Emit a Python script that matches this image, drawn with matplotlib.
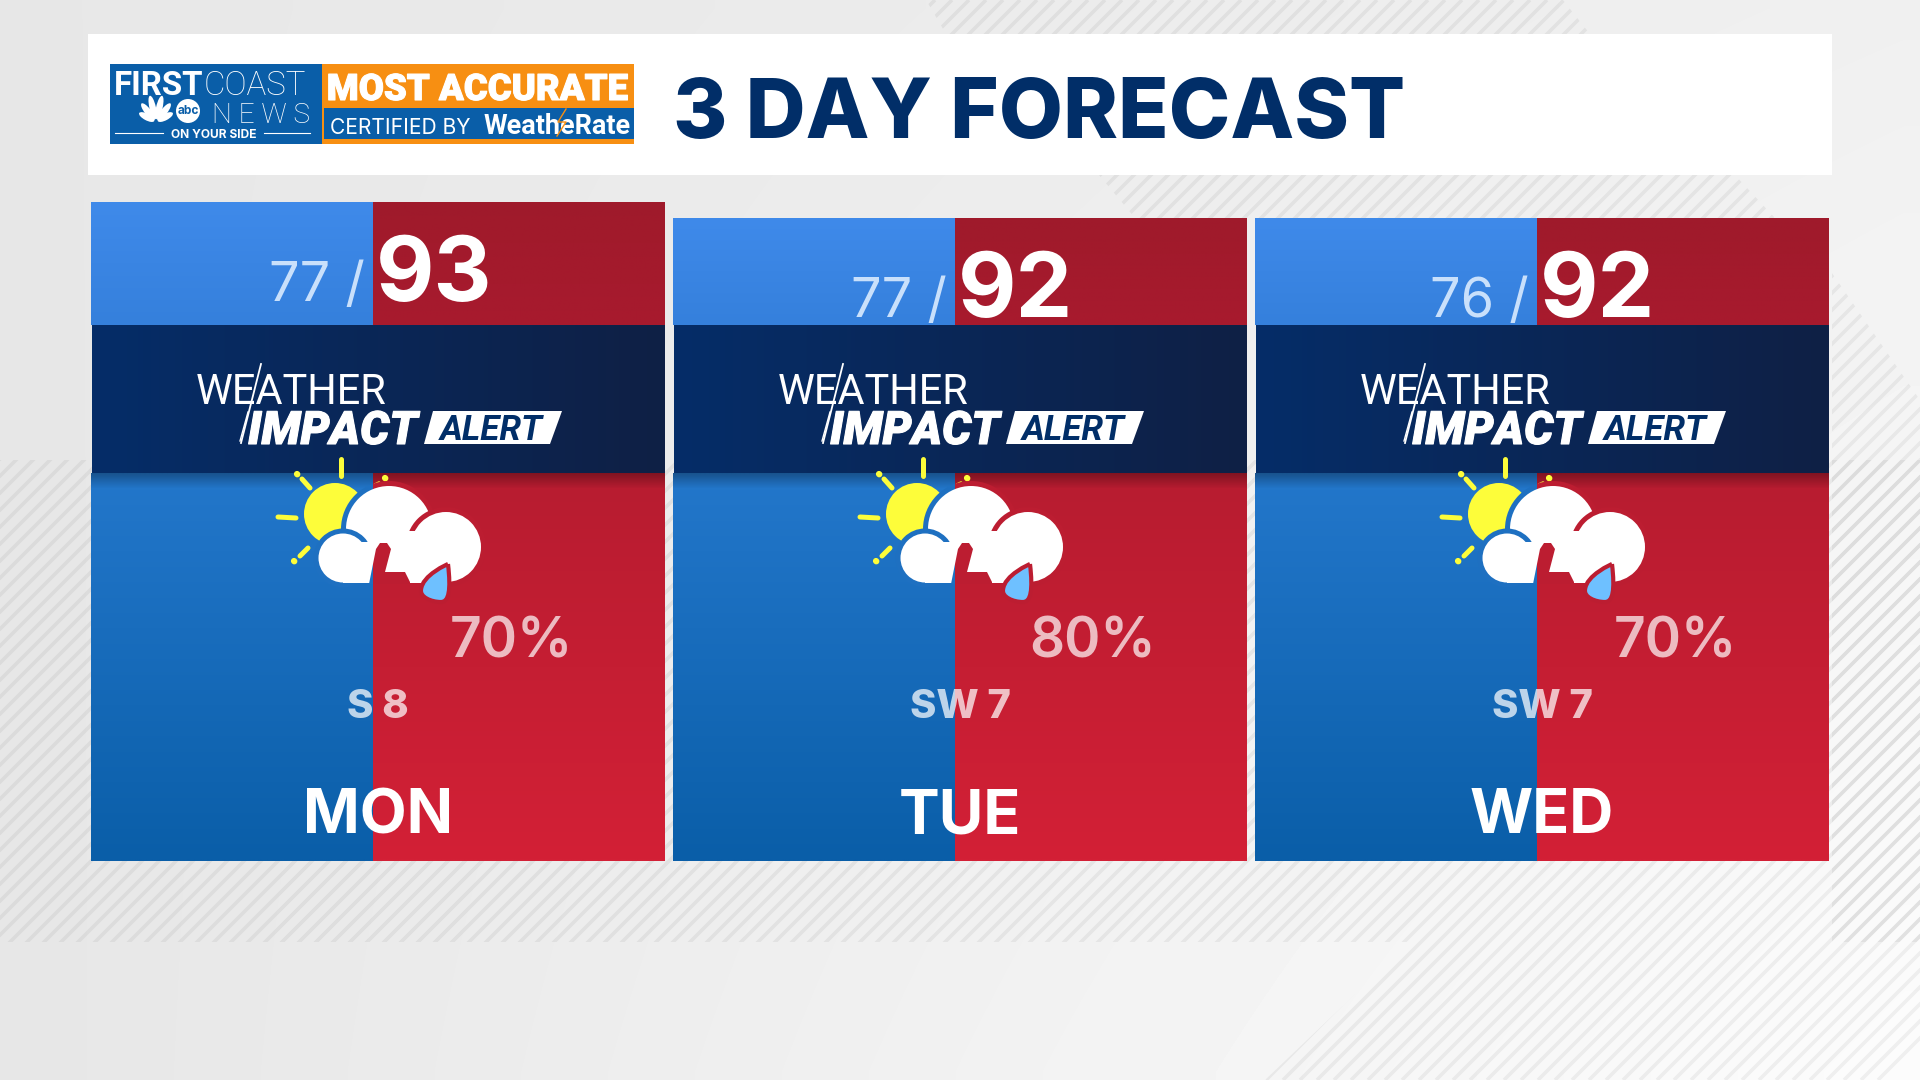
import numpy as np
import matplotlib
matplotlib.use("Agg")
import matplotlib.pyplot as plt
import matplotlib.patheffects as pe
from matplotlib.collections import LineCollection
from matplotlib.colors import to_rgb
from matplotlib.patches import Circle, Ellipse, PathPatch, Polygon, Rectangle
from matplotlib.path import Path

# forecast values
days = ["MON", "TUE", "WED"]
lows = [77, 77, 76]
highs = [93, 92, 92]
rain = [70, 80, 70]
wind = ["S 8", "SW 7", "SW 7"]

# layout of the cards, in pixels of the 1920x1080 frame
card_left = [91, 673, 1255]
card_right = [665, 1247, 1829]
card_split = [373, 955, 1537]
card_top = [202, 218, 218]

NAVY = "#012e68"
BLUE_MID = "#1e70c1"
RED_MID = "#bc1d31"
FONT = "Inter"
LOGO_FONT = "Roboto"

fig = plt.figure(figsize=(19.2, 10.8), dpi=100)
ax = fig.add_axes([0, 0, 1, 1])
ax.set_axis_off()

heavy = [pe.withStroke(linewidth=0.8, foreground="white")]


def px(size):
    # font size from a height in pixels
    return size * 0.72


def gradient(x0, y0, x1, y1, c0, c1, vertical=True, z=2):
    t = np.linspace(0, 1, 128)
    c0, c1 = np.array(to_rgb(c0)), np.array(to_rgb(c1))
    img = c0[None, :] * (1 - t[:, None]) + c1[None, :] * t[:, None]
    img = img[:, None, :] if vertical else img[None, :, :]
    ax.imshow(img, extent=(x0, x1, y1, y0), aspect="auto", zorder=z, interpolation="bilinear")


def hatch(points, color="black", alpha=0.05):
    clip = Polygon(points, closed=True, transform=ax.transData)
    segs = [[(c, 0), (c - 1080, 1080)] for c in np.arange(0, 3100, 17)]
    lc = LineCollection(segs, colors=color, alpha=alpha, linewidths=2.6, zorder=1)
    ax.add_collection(lc)
    lc.set_clip_path(clip)


def two_tone(split, make, z):
    # same shape in blue on the left half of the card and red on the right
    for color, x0 in ((BLUE_MID, split - 200), (RED_MID, split)):
        p = make(color)
        p.set_zorder(z)
        ax.add_patch(p)
        p.set_clip_path(Rectangle((x0, 400), 200, 300, transform=ax.transData))


def ray(x0, y0, x1, y1, dx, lw=3.6):
    ax.plot([x0 + dx, x1 + dx], [y0, y1], color="#fdfd3a", lw=lw, solid_capstyle="round", zorder=6)


def draw_icon(split):
    dx = split - 373
    ray(341, 459, 341, 476, dx)
    ray(302, 479, 310, 488, dx)
    ray(297, 474, 297.3, 474.3, dx, 4.5)
    ray(278, 517, 296, 518, dx)
    ray(308, 548, 300, 556, dx)
    ray(294, 561, 294.3, 561.3, dx, 4.5)
    ray(375, 485, 379, 483, dx, 2.5)
    ray(385, 478, 385.3, 478.3, dx, 4.5)
    ax.add_patch(Circle((335 + dx, 514), 31, color="#fdfd3a", lw=0, zorder=6))

    for (cx, cy, r) in [(389, 529, 43), (343, 558, 24.5), (446, 547, 35)]:
        two_tone(split, lambda c, cx=cx, cy=cy, r=r: Circle((cx + dx, cy), r + 5, color=c, lw=0), 7)
        ax.add_patch(Circle((cx + dx, cy), r, color="white", lw=0, zorder=7))
    ax.add_patch(Rectangle((343 + dx, 542), 103, 40.5, color="white", lw=0, zorder=7))
    ax.add_patch(Rectangle((396 + dx, 531), 50, 51, color="white", lw=0, zorder=7))

    # bolt cut out of the cloud
    two_tone(split, lambda c: Polygon([(369 + dx, 584), (376 + dx, 549), (380 + dx, 543), (387 + dx, 543),
                                       (391 + dx, 549), (385 + dx, 572), (405 + dx, 572), (410 + dx, 582),
                                       (410 + dx, 584)], closed=True, color=c, lw=0), 8)

    verts = [(448, 564), (448, 564), (422, 575), (421, 590), (420, 597), (431, 602), (441, 602),
             (449, 602), (451, 590), (448, 564)]
    codes = [Path.MOVETO] + [Path.CURVE4] * 9
    verts = [(x + dx, y) for x, y in verts]
    ax.add_patch(PathPatch(Path(verts, codes), fc="#6ec0ff", ec=RED_MID, lw=3, zorder=9))


def draw_alert_logo(dx):
    ax.text(196 + dx, 404, "WEATHER", family=LOGO_FONT, color="white",
            fontsize=px(41.5), ha="left", va="baseline", zorder=6)
    ax.plot([261 + dx, 241 + dx], [364, 443], color="white", lw=1.3, zorder=6)
    ax.plot([248 + dx, 240 + dx], [412, 441], color="white", lw=1.0, zorder=6)
    ax.text(248 + dx, 444, "IMPACT", family=LOGO_FONT, weight="black", style="italic", color="white",
            fontsize=px(46), ha="left", va="baseline", zorder=6, path_effects=heavy)
    ax.add_patch(Polygon([(433 + dx, 411), (562 + dx, 411), (550 + dx, 444), (424 + dx, 444)],
                         closed=True, color="white", lw=0, zorder=6))
    ax.text(491 + dx, 440.5, "ALERT", family=LOGO_FONT, weight="bold", style="italic", color=NAVY,
            fontsize=px(35), ha="center", va="baseline", zorder=7)


# background
yy, xx = np.mgrid[0:1:64j, 0:1:64j]
bg = 0.905 + 0.035 * xx + 0.05 * xx * yy - 0.002 * yy
ax.imshow(bg, extent=(0, 1920, 1080, 0), aspect="auto", cmap="gray", vmin=0, vmax=1,
          zorder=0, interpolation="bilinear")

hatch([(926, 0), (1563, 0), (1590, 34), (946, 34)])
hatch([(1099, 175), (1735, 175), (1775, 218), (1135, 218)])
hatch([(0, 460), (1920, 460), (1920, 942), (0, 942)])
hatch([(1832, 273), (1920, 400), (1920, 1045), (1885, 1080), (1265, 1080), (1410, 942), (1832, 942)])

# header strip
ax.add_patch(Rectangle((88, 34), 1744, 141, color="white", lw=0, zorder=2))
ax.add_patch(Rectangle((110, 64), 212, 80, color="#0a5ea8", lw=0, zorder=3))
ax.add_patch(Rectangle((322, 64), 312, 80, color="#f78f12", lw=0, zorder=3))
ax.add_patch(Rectangle((324, 108), 310, 31, color="#0a5ea8", lw=0, zorder=4))

ax.text(114, 95, "FIRST", family=LOGO_FONT, weight="bold", color="white", fontsize=px(33), va="baseline", zorder=5)
ax.text(204, 95, "COAST", family=LOGO_FONT, weight="light", color="white", fontsize=px(33), va="baseline", zorder=5)
ax.text(212, 123, "N E W S", family=LOGO_FONT, weight="light", color="white", fontsize=px(28), va="baseline", zorder=5)
ax.text(214, 137.5, "ON YOUR SIDE", family=FONT, weight="bold", color="white", fontsize=px(12),
        ha="center", va="baseline", zorder=5)
ax.plot([115, 163], [133, 133], color="white", lw=0.8, zorder=5)
ax.plot([264, 310], [133, 133], color="white", lw=0.8, zorder=5)
for ang, size in zip([-62, -38, -13, 13, 38, 62], [17, 21, 24, 24, 21, 17]):
    a = np.deg2rad(ang)
    ax.add_patch(Ellipse((156 + np.sin(a) * size * 0.62, 122 - np.cos(a) * size * 0.62), 6.5, size,
                         angle=ang, color="white", lw=0, zorder=5))
ax.add_patch(Circle((188, 111), 12, color="white", lw=0, zorder=5))
ax.text(188, 114.5, "abc", family=FONT, weight="bold", color="#0a5ea8", fontsize=px(12), ha="center",
        va="baseline", zorder=6)

ax.text(477.5, 100, "MOST ACCURATE", family=LOGO_FONT, weight="black", color="white", fontsize=px(36.5),
        ha="center", va="baseline", zorder=5, path_effects=heavy)
ax.text(330, 134, "CERTIFIED BY", family=FONT, color="white", fontsize=px(21), va="baseline", zorder=5)
ax.text(484, 134, "WeatheRate", family=LOGO_FONT, weight="bold", color="white",
        fontsize=px(27), va="baseline", zorder=5)
ax.plot([566, 558, 566, 557], [109, 122, 122, 136], color="#f78f12", lw=1.0, zorder=6)

ax.text(673, 138, "3 DAY FORECAST", family=FONT, weight=800, color=NAVY, fontsize=px(83),
        ha="left", va="baseline", zorder=5)

# the three day cards
for i, day in enumerate(days):
    l, r, s, t = card_left[i], card_right[i], card_split[i], card_top[i]
    dx = s - card_split[0]
    base = 301 if i == 0 else 317

    gradient(l, t, s, 325, "#3f8aea", "#3580dc")
    gradient(s, t, r, 325, "#9f1a2b", "#a81a2e")
    gradient(l, 473, s, 861, "#2377cb", "#0a5ea8")
    gradient(s, 473, r, 861, "#b71c30", "#d32036")
    gradient(l + 1, 325, r, 473, "#052d68", "#0f2045", vertical=False, z=3)

    # soft shadow under the navy band
    shadow = np.zeros((16, 1, 4))
    shadow[:, 0, 3] = np.linspace(0.3, 0, 16)
    ax.imshow(shadow, extent=(l, r, 489, 473), aspect="auto", zorder=3, interpolation="bilinear")

    ax.text(s - 8, base, f"{lows[i]} /", family=FONT, weight="normal", color="#c9e0fb", fontsize=px(54),
            ha="right", va="baseline", zorder=5)
    ax.text(s + 3, base, str(highs[i]), family=FONT, weight="bold", color="white", fontsize=px(90),
            ha="left", va="baseline", zorder=5)

    draw_alert_logo(dx)
    draw_icon(s)

    ax.text(s + 138, 657, f"{rain[i]}%", family=FONT, weight="semibold", color="white", alpha=0.7,
            fontsize=px(55), ha="center", va="baseline", zorder=5)
    ax.text(s + 5, 718, wind[i], family=FONT, weight=800, color="white", alpha=0.72, fontsize=px(40),
            ha="center", va="baseline", zorder=5)
    ax.text(s + 5, 833, day, family=FONT, weight="bold", color="white", fontsize=px(61),
            ha="center", va="baseline", zorder=5)

ax.set_xlim(0, 1920)
ax.set_ylim(1080, 0)
fig.savefig("out.png", dpi=100)
